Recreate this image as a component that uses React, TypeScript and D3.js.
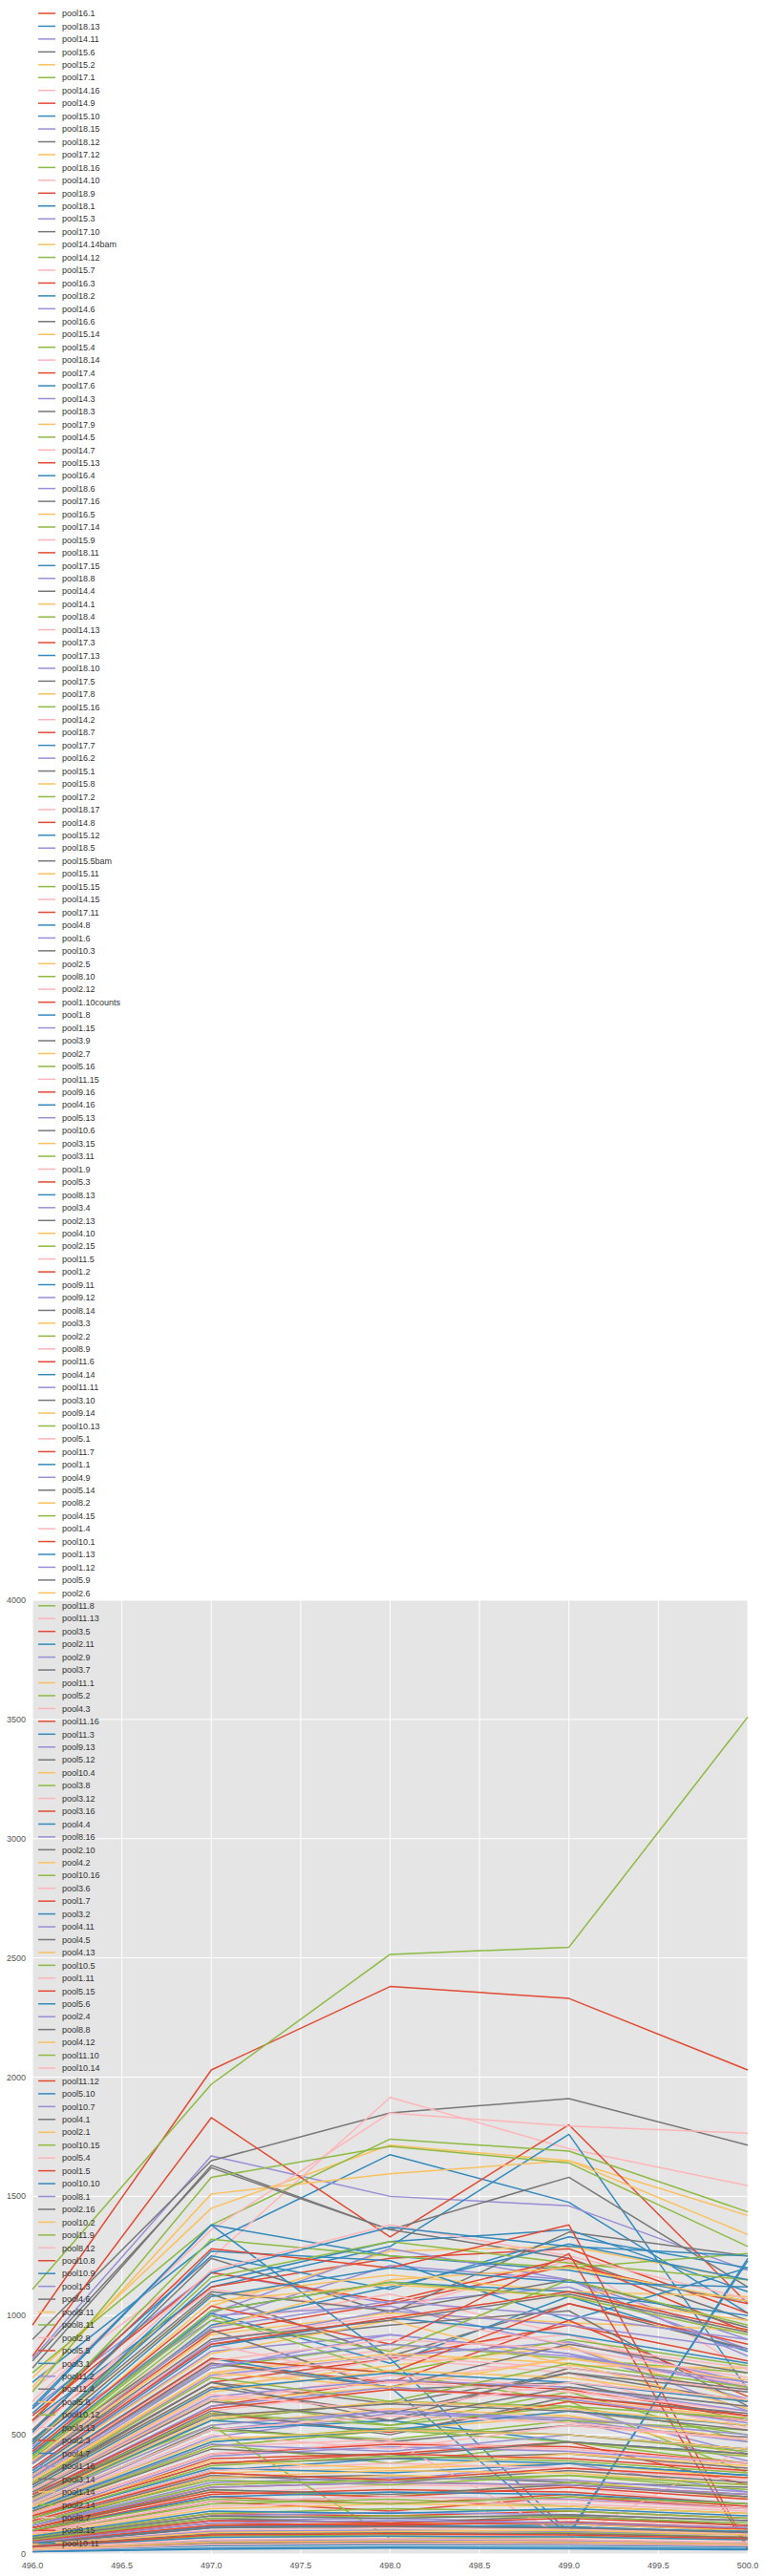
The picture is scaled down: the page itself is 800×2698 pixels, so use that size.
import React from "react";
import * as d3 from "d3";

const xValues = [496, 497, 498, 499, 500];
const xTicks = [496, 496.5, 497, 497.5, 498, 498.5, 499, 499.5, 500];
const yTicks = [0, 500, 1000, 1500, 2000, 2500, 3000, 3500, 4000];
const palette = ["#E24A33", "#348ABD", "#988ED5", "#777777", "#FBC15E", "#8EBA42", "#FFB5B8"];

const seriesNames = [
  "pool16.1", "pool18.13", "pool14.11", "pool15.6", "pool15.2", "pool17.1", "pool14.16", "pool14.9", "pool15.10", "pool18.15",
  "pool18.12", "pool17.12", "pool18.16", "pool14.10", "pool18.9", "pool18.1", "pool15.3", "pool17.10", "pool14.14bam", "pool14.12",
  "pool15.7", "pool16.3", "pool18.2", "pool14.6", "pool16.6", "pool15.14", "pool15.4", "pool18.14", "pool17.4", "pool17.6",
  "pool14.3", "pool18.3", "pool17.9", "pool14.5", "pool14.7", "pool15.13", "pool16.4", "pool18.6", "pool17.16", "pool16.5",
  "pool17.14", "pool15.9", "pool18.11", "pool17.15", "pool18.8", "pool14.4", "pool14.1", "pool18.4", "pool14.13", "pool17.3",
  "pool17.13", "pool18.10", "pool17.5", "pool17.8", "pool15.16", "pool14.2", "pool18.7", "pool17.7", "pool16.2", "pool15.1",
  "pool15.8", "pool17.2", "pool18.17", "pool14.8", "pool15.12", "pool18.5", "pool15.5bam", "pool15.11", "pool15.15", "pool14.15",
  "pool17.11", "pool4.8", "pool1.6", "pool10.3", "pool2.5", "pool8.10", "pool2.12", "pool1.10counts", "pool1.8", "pool1.15",
  "pool3.9", "pool2.7", "pool5.16", "pool11.15", "pool9.16", "pool4.16", "pool5.13", "pool10.6", "pool3.15", "pool3.11",
  "pool1.9", "pool5.3", "pool8.13", "pool3.4", "pool2.13", "pool4.10", "pool2.15", "pool11.5", "pool1.2", "pool9.11",
  "pool9.12", "pool8.14", "pool3.3", "pool2.2", "pool8.9", "pool11.6", "pool4.14", "pool11.11", "pool3.10", "pool9.14",
  "pool10.13", "pool5.1", "pool11.7", "pool1.1", "pool4.9", "pool5.14", "pool8.2", "pool4.15", "pool1.4", "pool10.1",
  "pool1.13", "pool1.12", "pool5.9", "pool2.6", "pool11.8", "pool11.13", "pool3.5", "pool2.11", "pool2.9", "pool3.7",
  "pool11.1", "pool5.2", "pool4.3", "pool11.16", "pool11.3", "pool9.13", "pool5.12", "pool10.4", "pool3.8", "pool3.12",
  "pool3.16", "pool4.4", "pool8.16", "pool2.10", "pool4.2", "pool10.16", "pool3.6", "pool1.7", "pool3.2", "pool4.11",
  "pool4.5", "pool4.13", "pool10.5", "pool1.11", "pool5.15", "pool5.6", "pool2.4", "pool8.8", "pool4.12", "pool11.10",
  "pool10.14", "pool11.12", "pool5.10", "pool10.7", "pool4.1", "pool2.1", "pool10.15", "pool5.4", "pool1.5", "pool10.10",
  "pool8.1", "pool2.16", "pool10.2", "pool11.9", "pool8.12", "pool10.8", "pool10.9", "pool1.3", "pool4.6", "pool5.11",
  "pool8.11", "pool2.8", "pool5.5", "pool3.1", "pool11.2", "pool11.4", "pool5.8", "pool10.12", "pool3.13", "pool2.3",
  "pool4.7", "pool1.16", "pool3.14", "pool1.14", "pool2.14", "pool8.7", "pool9.15", "pool10.11",
];

// pools 14-18 (values at 496, 497, 498, 499, 500)
const valuesPools14to18 = [
  [960, 2030, 2380, 2330, 2030], [720, 1310, 1675, 1475, 1010], [820, 1670, 1500, 1460, 1190], [900, 1650, 1850, 1910, 1715],
  [740, 1450, 1715, 1650, 1420], [1110, 1970, 2515, 2545, 3510], [690, 1240, 1915, 1700, 1545], [830, 1830, 1330, 1800, 1050],
  [560, 1120, 1290, 1760, 690], [610, 1180, 1050, 1120, 860], [780, 1630, 1360, 1240, 980], [700, 1510, 1595, 1650, 1340],
  [760, 1380, 1740, 1690, 1435], [640, 1360, 1850, 1795, 1765], [520, 1120, 1240, 1280, 1010], [590, 1250, 1110, 1330, 1200],
  [480, 980, 1210, 1150, 900], [810, 1620, 1360, 1580, 1120], [430, 1040, 1270, 1290, 1150], [680, 1580, 1710, 1640, 1290],
  [550, 1110, 1020, 1230, 770], [390, 930, 1050, 1210, 1050], [610, 1380, 1250, 1190, 1060], [450, 1010, 1280, 1150, 830],
  [520, 1240, 1010, 1350, 1250], [470, 1080, 1170, 1100, 1080], [560, 1320, 1250, 1200, 1260], [300, 760, 860, 920, 690],
  [580, 1180, 1060, 1240, 930], [420, 1010, 800, 1080, 850], [350, 850, 920, 840, 650], [460, 1090, 830, 1050, 860],
  [380, 920, 1010, 970, 940], [330, 780, 880, 820, 760], [400, 960, 1090, 920, 700], [290, 720, 820, 960, 810],
  [510, 1270, 1230, 980, 1200], [430, 1000, 1040, 870, 600], [380, 880, 960, 1020, 620], [350, 840, 980, 790, 780],
  [410, 1000, 760, 640, 340], [260, 690, 820, 760, 530], [330, 800, 720, 980, 660], [470, 1140, 1310, 1360, 1100],
  [300, 750, 830, 890, 720], [420, 940, 690, 720, 560], [280, 700, 790, 870, 640], [270, 650, 540, 680, 470],
  [350, 880, 720, 820, 710], [240, 620, 730, 690, 580], [620, 1380, 820, 90, 1230], [250, 560, 640, 610, 420],
  [300, 720, 630, 760, 640], [280, 640, 700, 650, 570], [220, 560, 640, 620, 500], [260, 640, 750, 700, 520],
  [230, 590, 510, 640, 560], [210, 520, 560, 470, 420], [190, 490, 590, 560, 390], [200, 530, 470, 540, 490],
  [170, 450, 520, 580, 410], [180, 460, 380, 470, 380], [160, 410, 470, 430, 340], [150, 400, 420, 470, 290],
  [140, 350, 400, 380, 330], [130, 340, 310, 380, 260], [120, 320, 330, 300, 280], [110, 290, 330, 310, 230],
  [100, 270, 240, 300, 240], [90, 250, 290, 280, 200], [80, 220, 180, 240, 190],
];

// pools 1-11
const valuesPools1to11 = [
  [40, 110, 120, 115, 90], [55, 140, 150, 130, 110], [480, 1100, 1020, 1150, 950], [35, 90, 100, 95, 70],
  [470, 1160, 1310, 1220, 1150], [500, 1190, 1380, 1250, 1070], [20, 50, 55, 60, 40], [380, 960, 1120, 1300, 1150],
  [310, 780, 920, 840, 700], [60, 150, 130, 160, 120], [420, 1060, 1130, 1080, 980], [330, 820, 760, 900, 790],
  [25, 70, 80, 75, 60], [560, 1280, 1200, 1380, 30], [45, 120, 110, 125, 100], [360, 890, 1020, 960, 860],
  [290, 720, 560, 780, 690], [30, 80, 90, 85, 70], [260, 540, 66, 70, 110], [240, 600, 690, 650, 560],
  [70, 170, 160, 180, 150], [420, 1020, 1140, 1100, 1000], [200, 520, 600, 560, 470], [15, 40, 45, 40, 35],
  [300, 760, 840, 800, 610], [85, 210, 230, 200, 170], [350, 900, 1000, 880, 780], [430, 1040, 880, 1260, 20],
  [10, 25, 30, 28, 22], [160, 410, 450, 430, 380], [320, 800, 700, 880, 760], [50, 120, 130, 125, 100],
  [210, 520, 480, 560, 520], [180, 450, 480, 60, 450], [110, 260, 240, 280, 230], [340, 820, 700, 80, 1240],
  [65, 160, 175, 165, 140], [380, 900, 980, 1090, 930], [140, 340, 360, 380, 320], [30, 75, 80, 90, 70],
  [260, 650, 720, 680, 600], [95, 240, 210, 250, 200], [470, 1180, 1370, 1290, 1250], [20, 55, 60, 55, 45],
  [240, 600, 500, 660, 590], [390, 950, 1150, 1200, 1060], [180, 450, 520, 470, 410], [40, 100, 110, 105, 85],
  [330, 820, 760, 1050, 880], [45, 115, 120, 110, 95], [250, 620, 700, 650, 550], [130, 330, 300, 350, 300],
  [270, 680, 770, 740, 640], [120, 290, 310, 330, 270], [300, 740, 830, 780, 680], [60, 140, 130, 150, 120],
  [150, 360, 340, 380, 330], [380, 950, 1060, 1000, 900], [20, 45, 50, 45, 40], [220, 540, 610, 580, 480],
  [400, 980, 850, 1150, 960], [140, 350, 380, 360, 310], [55, 130, 120, 135, 110], [350, 870, 990, 920, 800],
  [90, 220, 240, 230, 190], [290, 700, 590, 760, 680], [30, 70, 75, 70, 60], [190, 470, 530, 500, 430],
  [330, 810, 900, 860, 740], [100, 250, 270, 260, 210], [230, 560, 520, 600, 540], [40, 95, 100, 95, 80],
  [160, 380, 400, 420, 360], [310, 760, 700, 820, 730], [70, 170, 190, 180, 150], [200, 500, 440, 540, 480],
  [360, 880, 990, 1100, 940], [15, 35, 40, 38, 30], [270, 660, 730, 700, 600], [110, 270, 250, 290, 240],
  [230, 570, 640, 610, 540], [300, 740, 640, 800, 700], [25, 60, 65, 60, 50], [170, 420, 460, 450, 380],
  [440, 1080, 1200, 1140, 1120], [120, 300, 320, 310, 260], [260, 640, 560, 700, 620], [80, 190, 210, 200, 170],
  [410, 1020, 1140, 1080, 920], [170, 420, 470, 440, 380], [50, 120, 125, 130, 105], [280, 690, 760, 720, 640],
  [190, 460, 430, 500, 440], [35, 85, 90, 85, 70], [130, 320, 350, 340, 290], [240, 590, 540, 620, 570],
  [90, 220, 240, 225, 190], [250, 610, 690, 660, 580], [75, 180, 170, 190, 160], [320, 790, 880, 830, 720],
  [180, 440, 410, 470, 420], [20, 50, 55, 50, 42], [150, 370, 410, 390, 340], [270, 670, 600, 720, 650],
  [110, 280, 300, 290, 250], [190, 470, 520, 500, 440], [50, 130, 140, 130, 110], [240, 580, 630, 600, 520],
  [160, 390, 360, 420, 370], [60, 150, 160, 155, 130], [210, 520, 580, 550, 480], [140, 340, 310, 360, 320],
  [100, 240, 260, 250, 210], [220, 540, 600, 570, 500], [45, 110, 115, 110, 90], [200, 480, 520, 500, 440],
  [130, 310, 290, 330, 290], [85, 200, 220, 210, 180], [160, 380, 420, 400, 350], [30, 70, 75, 72, 60],
  [120, 280, 300, 290, 250], [65, 160, 150, 165, 140], [40, 90, 95, 100, 80], [100, 230, 210, 240, 210],
  [15, 40, 45, 42, 35], [30, 80, 85, 80, 65], [10, 20, 25, 22, 18],
];

const W = 800;
const H = 2698;
const plotLeft = 34;
const plotRight = 783;
const plotTop = 1676;
const plotBottom = 2675;

export default function App() {
  const allValues = [...valuesPools14to18, ...valuesPools1to11];
  const x = d3.scaleLinear().domain([496, 500]).range([plotLeft, plotRight]);
  const y = d3.scaleLinear().domain([0, 4000]).range([plotBottom, plotTop]);
  const line = d3
    .line<number>()
    .x((_, i) => x(xValues[i]))
    .y((d) => y(d));
  const font = "'Liberation Sans', Arial, sans-serif";
  const legendTop = 14;
  const legendStep = 13.45;

  return (
    <svg
      width={W}
      height={H}
      style={{ position: "absolute", left: 0, top: 0, background: "#fff" }}
      fontFamily={font}
    >
      <rect x={plotLeft} y={plotTop} width={plotRight - plotLeft} height={plotBottom - plotTop} fill="#E5E5E5" />
      {xTicks.map((t) => (
        <line key={"gx" + t} x1={x(t)} x2={x(t)} y1={plotTop} y2={plotBottom} stroke="#fff" strokeWidth={1} />
      ))}
      {yTicks.map((t) => (
        <line key={"gy" + t} x1={plotLeft} x2={plotRight} y1={y(t)} y2={y(t)} stroke="#fff" strokeWidth={1} />
      ))}
      <g>
        {allValues.map((vals, i) => (
          <path
            key={"s" + i}
            d={line(vals) || ""}
            fill="none"
            stroke={palette[i % palette.length]}
            strokeWidth={1.5}
            strokeLinejoin="round"
          />
        ))}
      </g>
      {xTicks.map((t) => (
        <text key={"tx" + t} x={x(t)} y={plotBottom + 15} fontSize={9} fill="#555555" textAnchor="middle">
          {t.toFixed(1)}
        </text>
      ))}
      {yTicks.map((t) => (
        <text key={"ty" + t} x={plotLeft - 7} y={y(t) + 3} fontSize={9} fill="#555555" textAnchor="end">
          {t}
        </text>
      ))}
      <g>
        {seriesNames.map((name, i) => {
          const cy = legendTop + i * legendStep;
          return (
            <g key={"l" + i}>
              <line x1={40} x2={58} y1={cy} y2={cy} stroke={palette[i % palette.length]} strokeWidth={1.5} />
              <text x={65} y={cy + 3.2} fontSize={9} fill="#333333">
                {name}
              </text>
            </g>
          );
        })}
      </g>
    </svg>
  );
}
